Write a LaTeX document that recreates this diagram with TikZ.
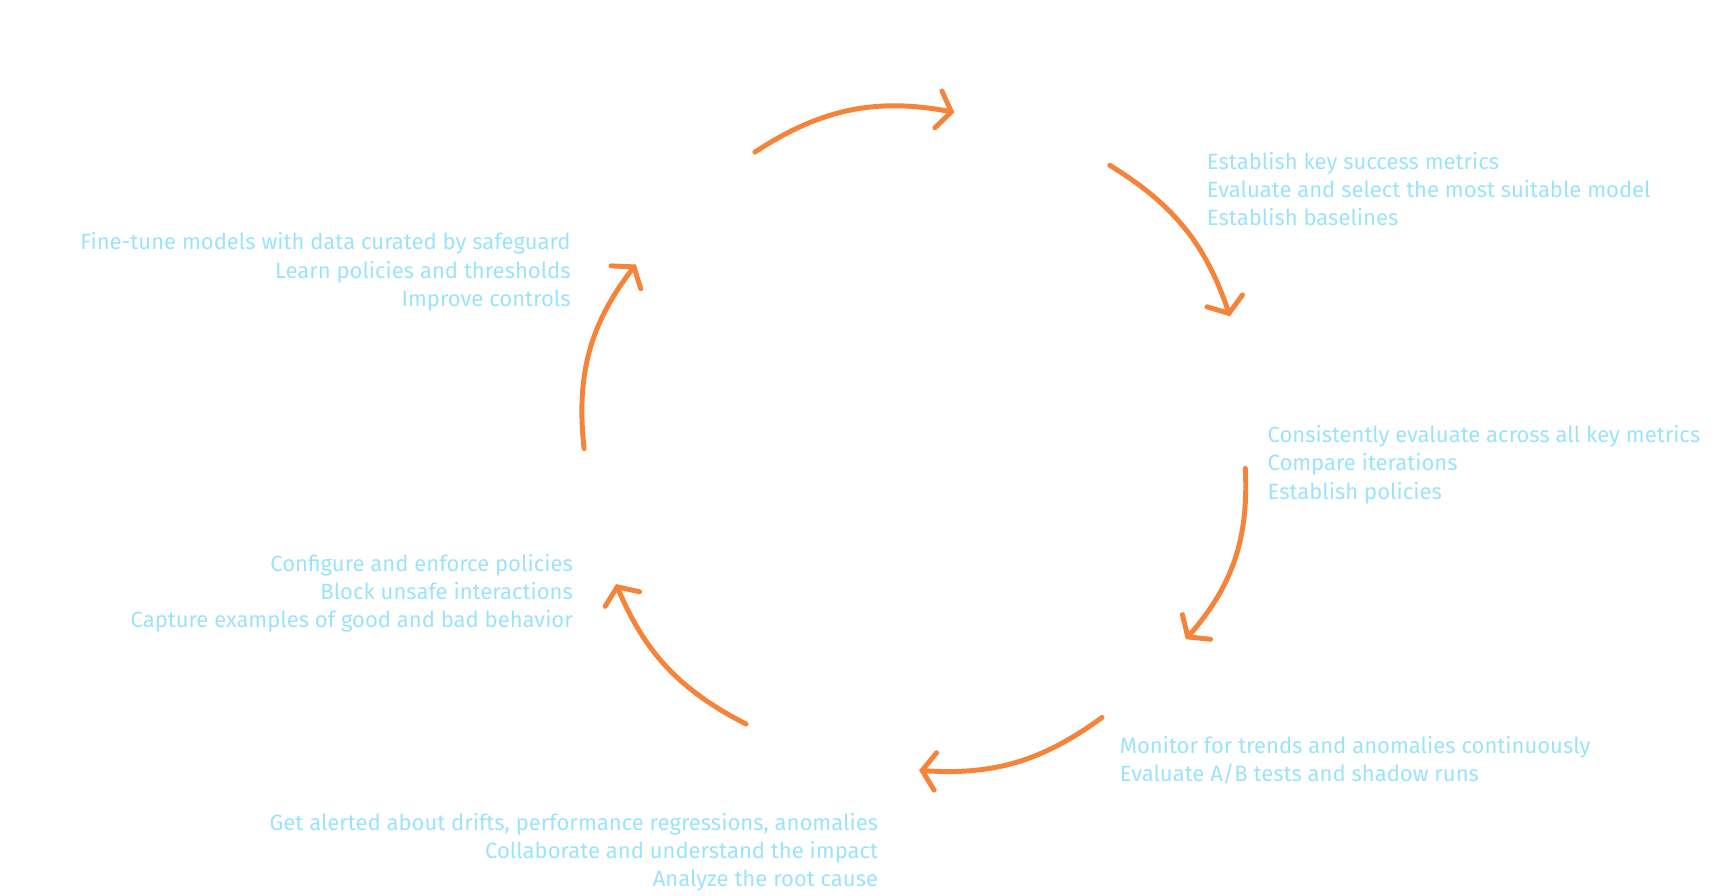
\documentclass[tikz,border=0pt]{standalone}
\usepackage{fontspec}
\setmainfont{Fira Sans}
\usetikzlibrary{arrows.meta}
\definecolor{cycleorange}{HTML}{F5843A}
\definecolor{noteblue}{HTML}{9BE3FB}
\begin{document}
\begin{tikzpicture}[x=1pt,y=-1pt]
    \tikzset{note/.style={inner sep=0pt,text=noteblue,font=\fontsize{20}{25.5}\selectfont},
      cyc/.style={draw=cycleorange,line width=4.5pt,line cap=round,
        -{Straight Barb[length=12pt,width=34pt,line cap=round]}}}
    \useasboundingbox (0,0) rectangle (1568,813);
    \node[note,anchor=north west,align=left] at (1095,138) (plan) {Establish key success metrics\\Evaluate and select the most suitable model\\Establish baselines};
    \node[note,anchor=north west,align=left] at (1150,386) (test) {Consistently evaluate across all key metrics\\Compare iterations\\Establish policies};
    \node[note,anchor=north west,align=left] at (1016,668) (monitor) {Monitor for trends and anomalies continuously\\Evaluate A/B tests and shadow runs};
    \node[note,anchor=north east,align=right] at (797,738) (alert) {Get alerted about drifts, performance regressions, anomalies\\Collaborate and understand the impact\\Analyze the root cause};
    \node[note,anchor=north east,align=right] at (520,503) (guard) {Configure and enforce policies\\Block unsafe interactions\\Capture examples of good and bad behavior};
    \node[note,anchor=north east,align=right] at (518,211) (tune) {Fine-tune models with data curated by safeguard\\Learn policies and thresholds\\Improve controls};

    \coordinate (a0) at (685,138);  \coordinate (a1) at (866,102);
    \coordinate (b0) at (1007,150); \coordinate (b1) at (1116,287);
    \coordinate (c0) at (1130,425); \coordinate (c1) at (1076,580);
    \coordinate (d0) at (1000,651); \coordinate (d1) at (834,699);
    \coordinate (e0) at (677,657);  \coordinate (e1) at (559,530);
    \coordinate (f0) at (530,407);  \coordinate (f1) at (577,240);

    \draw[cyc] (a0) to[bend left=22] (a1);
    \draw[cyc] (b0) to[bend left=20] (b1);
    \draw[cyc] (c0) to[bend left=22] (c1);
    \draw[cyc] (d0) to[bend left=20] (d1);
    \draw[cyc] (e0) to[bend left=20] (e1);
    \draw[cyc] (f0) to[bend left=22] (f1);
\end{tikzpicture}
\end{document}
